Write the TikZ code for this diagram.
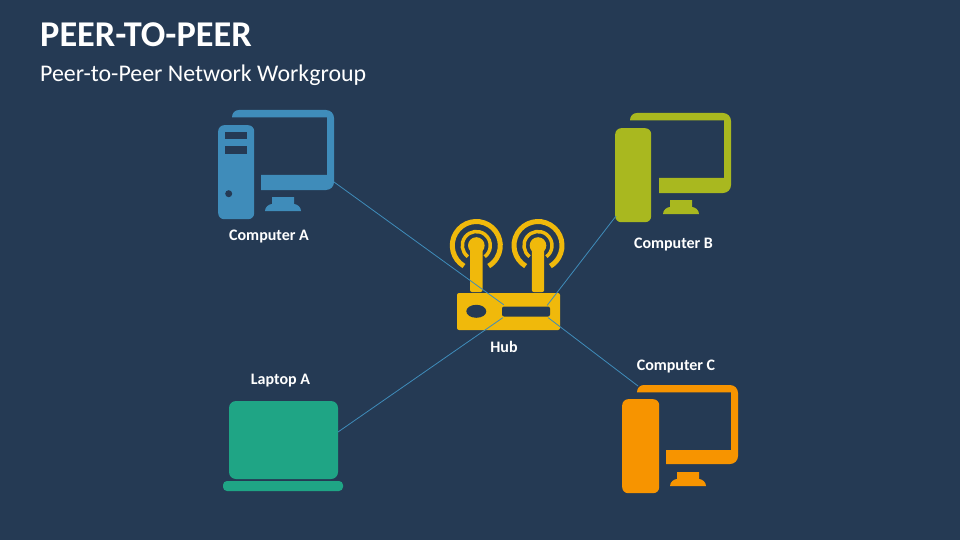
\documentclass[tikz,border=0pt]{standalone}
\usepackage{fontspec}
\setmainfont{Carlito}
\usetikzlibrary{positioning}

\definecolor{bgnavy}{HTML}{253A54}
\definecolor{compblue}{HTML}{3F8CBA}
\definecolor{compgreen}{HTML}{A9B81F}
\definecolor{comporange}{HTML}{F79400}
\definecolor{lapteal}{HTML}{1FA585}
\definecolor{hubyellow}{HTML}{F0B90B}

\tikzset{
	devlabel/.style={text=white, font=\fontsize{16}{18}\selectfont\bfseries, inner sep=0pt},
	tower/.style={rectangle, rounded corners=6pt, minimum width=36pt, minimum height=94pt, inner sep=0pt, anchor=north west},
	link/.style={compblue, line width=0.8pt},
	ring/.style={hubyellow, line cap=butt}
}

\begin{document}
\begin{tikzpicture}[x=1pt,y=1pt]
	\useasboundingbox[fill=bgnavy] (0,0) rectangle (960,-540);

	% title
	\node[anchor=base west, inner sep=0pt, text=white, font=\fontsize{36.3}{40}\selectfont\bfseries] (title) at (40,-47) {PEER-TO-PEER};
	\node[anchor=base west, inner sep=0pt, text=white, font=\fontsize{23.9}{28}\selectfont] (subtitle) at (40,-81.5) {Peer-to-Peer Network Workgroup};

	% computer a
	\begin{scope}[shift={(232,-110)}]
		\fill[compblue] (0,-7.3) .. controls (0,-3) and (3,0) .. (7,0) [rounded corners=8pt] -- (102,0) -- (102,-80) [sharp corners] -- (29,-80) -- (29,-65) -- (95,-65) -- (95,-7.3) -- cycle;
		\fill[compblue] (33,-101) .. controls (33,-97) and (37,-94) .. (40,-94) -- (40,-87) -- (62,-87) -- (62,-94) .. controls (65,-94) and (69,-97) .. (69,-101) -- cycle;
		\node[tower, fill=compblue] (towerA) at (-14,-15) {};
		\fill[bgnavy] (-7,-22) rectangle (15,-29.3);
		\fill[bgnavy] (-7,-36.3) rectangle (15,-44);
		\fill[bgnavy] (-3.3,-83.7) circle (3.5);
		\coordinate (portA) at (102,-72);
	\end{scope}
	\node[devlabel] (labelA) at (269,-237) {Computer A};

	% computer b
	\begin{scope}[shift={(630,-113)}]
		\fill[compgreen] (0,-7.3) .. controls (0,-3) and (3,0) .. (7,0) [rounded corners=8pt] -- (101,0) -- (101,-80) [sharp corners] -- (29,-80) -- (29,-65) -- (94,-65) -- (94,-7.3) -- cycle;
		\fill[compgreen] (33,-101) .. controls (33,-97) and (37,-94) .. (40,-94) -- (40,-87) -- (62,-87) -- (62,-94) .. controls (65,-94) and (69,-97) .. (69,-101) -- cycle;
		\node[tower, fill=compgreen] (towerB) at (-15,-15) {};
		\coordinate (portB) at (-14,-103);
	\end{scope}
	\node[devlabel] (labelB) at (673.5,-245) {Computer B};

	% computer c
	\begin{scope}[shift={(637,-385)}]
		\fill[comporange] (0,-7.3) .. controls (0,-3) and (3,0) .. (7,0) [rounded corners=8pt] -- (101,0) -- (101,-79) [sharp corners] -- (29,-79) -- (29,-65) -- (94,-65) -- (94,-7.3) -- cycle;
		\fill[comporange] (33,-101) .. controls (33,-97) and (37,-94) .. (40,-94) -- (40,-87) -- (62,-87) -- (62,-94) .. controls (65,-94) and (69,-97) .. (69,-101) -- cycle;
		\node[tower, fill=comporange, minimum width=37pt] (towerC) at (-15,-14) {};
		\coordinate (portC) at (1,-1);
	\end{scope}
	\node[devlabel] (labelC) at (676,-367) {Computer C};

	% laptop
	\node[fill=lapteal, rectangle, rounded corners=7pt, minimum width=109pt, minimum height=78pt, inner sep=0pt] (screen) at (283.5,-440) {};
	\node[fill=lapteal, rectangle, rounded corners=4pt, minimum width=120pt, minimum height=10pt, inner sep=0pt] (base) at (283,-486) {};
	\coordinate (portL) at (338,-432);
	\node[devlabel] (labelL) at (280.5,-381) {Laptop A};

	% hub
	\draw[ring, line width=5pt] (476.3,-245.5) ++(-121:24) arc (-121:-419:24);
	\draw[ring, line width=3.5pt] (476.3,-245.5) ++(-127:14) arc (-127:-413:14);
	\draw[ring, line width=5pt] (538,-245.5) ++(-121:24) arc (-121:-419:24);
	\draw[ring, line width=3.5pt] (538,-245.5) ++(-127:14) arc (-127:-413:14);
	\fill[hubyellow] (476.3,-245.5) circle (8.3);
	\fill[hubyellow] (538,-245.5) circle (8.3);
	\fill[hubyellow, rounded corners=2pt] (470,-245) rectangle (482.5,-292);
	\fill[hubyellow, rounded corners=2pt] (531.8,-245) rectangle (544.2,-292);
	\node[fill=hubyellow, rectangle, rounded corners=2pt, minimum width=103pt, minimum height=37pt, inner sep=0pt] (hub) at (508.5,-311.5) {};
	\fill[bgnavy] (476.3,-311.3) ellipse (10 and 6.5);
	\node[fill=bgnavy, rectangle, rounded corners=2pt, minimum width=48pt, minimum height=10pt, inner sep=0pt] (slot) at (526,-311.5) {};
	\node[devlabel] (labelH) at (504,-347) {Hub};

	% links
	\draw[link] (portA) -- ([xshift=2pt,yshift=1.5pt]slot.north west);
	\draw[link] (portB) -- ([xshift=-3pt,yshift=1pt]slot.north east);
	\draw[link] (portC) -- ([xshift=-2pt,yshift=-1pt]slot.south east);
	\draw[link] (portL) -- ([xshift=1pt,yshift=-1pt]slot.south west);
\end{tikzpicture}
\end{document}
